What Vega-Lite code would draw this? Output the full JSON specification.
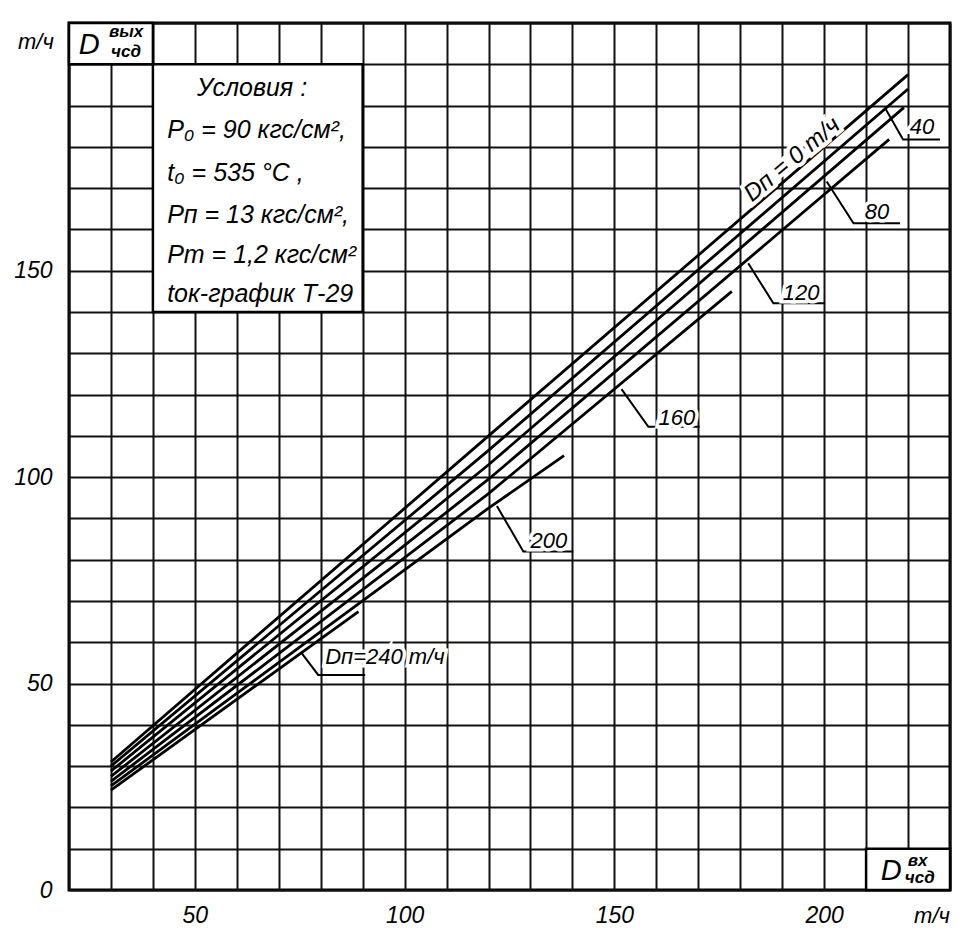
{
  "$schema": "https://vega.github.io/schema/vega-lite/v6.json",
  "width": 881,
  "height": 867,
  "autosize": {"type": "none"},
  "padding": {"left": 69, "top": 23, "right": 14, "bottom": 54},
  "background": "white",
  "config": {
    "view": {"stroke": "black", "strokeWidth": 3},
    "font": "Liberation Sans",
    "text": {"font": "Liberation Sans", "fontStyle": "italic", "color": "black"}
  },
  "datasets": {
    "curves": [
      {"dn": "0", "x": 30, "y": 31}, {"dn": "0", "x": 120, "y": 110}, {"dn": "0", "x": 220, "y": 197.5},
      {"dn": "40", "x": 30, "y": 30}, {"dn": "40", "x": 120, "y": 106.5}, {"dn": "40", "x": 220, "y": 194},
      {"dn": "80", "x": 30, "y": 28.8}, {"dn": "80", "x": 120, "y": 103}, {"dn": "80", "x": 219, "y": 189.5},
      {"dn": "120", "x": 30, "y": 27.5}, {"dn": "120", "x": 120, "y": 99.5}, {"dn": "120", "x": 215.5, "y": 181.8},
      {"dn": "160", "x": 30, "y": 26.3}, {"dn": "160", "x": 120, "y": 96}, {"dn": "160", "x": 178, "y": 145},
      {"dn": "200", "x": 30, "y": 25.2}, {"dn": "200", "x": 120, "y": 92.5}, {"dn": "200", "x": 138, "y": 105.2},
      {"dn": "240", "x": 30, "y": 24.2}, {"dn": "240", "x": 89, "y": 67.4}
    ],
    "leaders": [
      {"id": "40", "seq": 1, "x": 214.7, "y": 189.1}, {"id": "40", "seq": 2, "x": 218.8, "y": 181.8}, {"id": "40", "seq": 3, "x": 227.6, "y": 181.8},
      {"id": "80", "seq": 1, "x": 200.6, "y": 171.6}, {"id": "80", "seq": 2, "x": 207.0, "y": 161.5}, {"id": "80", "seq": 3, "x": 218.1, "y": 161.5},
      {"id": "120", "seq": 1, "x": 181.9, "y": 151.8}, {"id": "120", "seq": 2, "x": 187.9, "y": 142.1}, {"id": "120", "seq": 3, "x": 200.2, "y": 142.1},
      {"id": "160", "seq": 1, "x": 151.7, "y": 121.3}, {"id": "160", "seq": 2, "x": 158.1, "y": 112.2}, {"id": "160", "seq": 3, "x": 170.3, "y": 112.2},
      {"id": "200", "seq": 1, "x": 122.0, "y": 93.0}, {"id": "200", "seq": 2, "x": 128.3, "y": 82.0}, {"id": "200", "seq": 3, "x": 140.2, "y": 82.0},
      {"id": "240", "seq": 1, "x": 75.5, "y": 57.3}, {"id": "240", "seq": 2, "x": 79.4, "y": 52.1}, {"id": "240", "seq": 3, "x": 90.6, "y": 52.1}
    ],
    "boxes": [
      {"x": 40, "x2": 90, "y": 140, "y2": 200},
      {"x": 20, "x2": 40, "y": 200, "y2": 210},
      {"x": 210, "x2": 230, "y": 0, "y2": 10}
    ],
    "cond": [
      {"x": 50.5, "y": 194.3, "t": "Условия :"},
      {"x": 43.4, "y": 184.2, "t": "P₀ = 90 кгс/см²,"},
      {"x": 43.4, "y": 173.7, "t": "t₀ = 535 °C ,"},
      {"x": 43.4, "y": 163.6, "t": "Pп = 13 кгс/см²,"},
      {"x": 43.4, "y": 153.9, "t": "Pт = 1,2 кгс/см²"},
      {"x": 43.4, "y": 144.4, "t": "tок-график Т-29"}
    ],
    "curvelabels": [
      {"x": 223.3, "y": 184.9, "t": "40"},
      {"x": 212.6, "y": 164.3, "t": "80"},
      {"x": 194.5, "y": 144.7, "t": "120"},
      {"x": 164.9, "y": 114.4, "t": "160"},
      {"x": 134.4, "y": 84.6, "t": "200"},
      {"x": 95.3, "y": 56.5, "t": "Dп=240 т/ч"}
    ],
    "dn0": [{"x": 192.4, "y": 176.9, "t": "Dп = 0 т/ч"}],
    "bigD": [{"x": 24.8, "y": 204.6, "t": "D"}, {"x": 216.0, "y": 4.6, "t": "D"}],
    "smallD": [
      {"x": 33.6, "y": 207.8, "t": "вых"}, {"x": 33.6, "y": 203.0, "t": "чсд"},
      {"x": 222.3, "y": 7.0, "t": "вх"}, {"x": 222.8, "y": 2.8, "t": "чсд"}
    ],
    "units": [{"x": 12.1, "y": 205.5, "t": "т/ч"}, {"x": 225.7, "y": -6.3, "t": "т/ч"}]
  },
  "layer": [
    {
      "data": {"name": "curves"},
      "mark": {"type": "line", "color": "black", "strokeWidth": 2.8},
      "encoding": {
        "x": {
          "field": "x", "type": "quantitative",
          "scale": {"domain": [20, 230], "nice": false, "zero": false},
          "axis": {
            "values": [20, 30, 40, 50, 60, 70, 80, 90, 100, 110, 120, 130, 140, 150, 160, 170, 180, 190, 200, 210, 220, 230],
            "grid": true, "gridColor": "#111", "gridWidth": 2, "gridOpacity": 1,
            "ticks": false, "domain": false, "title": null, "labelOverlap": false, "labelFlush": false,
            "labelExpr": "datum.value % 50 === 0 ? datum.label : ''",
            "labelFont": "Liberation Sans", "labelFontStyle": "italic", "labelFontSize": 23,
            "labelColor": "black", "labelPadding": 14
          }
        },
        "y": {
          "field": "y", "type": "quantitative",
          "scale": {"domain": [0, 210], "nice": false, "zero": false},
          "axis": {
            "values": [0, 10, 20, 30, 40, 50, 60, 70, 80, 90, 100, 110, 120, 130, 140, 150, 160, 170, 180, 190, 200, 210],
            "grid": true, "gridColor": "#111", "gridWidth": 2, "gridOpacity": 1,
            "ticks": false, "domain": false, "title": null, "labelOverlap": false, "labelFlush": false,
            "labelExpr": "(datum.value % 50 === 0 && datum.value < 200) ? datum.label : ''",
            "labelFont": "Liberation Sans", "labelFontStyle": "italic", "labelFontSize": 23,
            "labelColor": "black", "labelPadding": 17
          }
        },
        "detail": {"field": "dn", "type": "nominal"}
      }
    },
    {
      "data": {"name": "leaders"},
      "mark": {"type": "line", "color": "black", "strokeWidth": 2},
      "encoding": {
        "x": {"field": "x", "type": "quantitative"},
        "y": {"field": "y", "type": "quantitative"},
        "detail": {"field": "id", "type": "nominal"},
        "order": {"field": "seq", "type": "quantitative"}
      }
    },
    {
      "data": {"name": "boxes"},
      "mark": {"type": "rect", "fill": "white", "stroke": "black", "strokeWidth": 2.5},
      "encoding": {
        "x": {"field": "x", "type": "quantitative"},
        "x2": {"field": "x2"},
        "y": {"field": "y", "type": "quantitative"},
        "y2": {"field": "y2"}
      }
    },
    {
      "data": {"name": "cond"},
      "mark": {"type": "text", "align": "left", "baseline": "middle", "fontSize": 25, "fontStyle": "italic"},
      "encoding": {
        "x": {"field": "x", "type": "quantitative"},
        "y": {"field": "y", "type": "quantitative"},
        "text": {"field": "t"}
      }
    },
    {
      "data": {"name": "curvelabels"},
      "mark": {"type": "text", "align": "center", "baseline": "middle", "fontSize": 22, "fontStyle": "italic", "stroke": "white", "strokeWidth": 7, "fill": "white"},
      "encoding": {
        "x": {"field": "x", "type": "quantitative"},
        "y": {"field": "y", "type": "quantitative"},
        "text": {"field": "t"}
      }
    },
    {
      "data": {"name": "curvelabels"},
      "mark": {"type": "text", "align": "center", "baseline": "middle", "fontSize": 22, "fontStyle": "italic"},
      "encoding": {
        "x": {"field": "x", "type": "quantitative"},
        "y": {"field": "y", "type": "quantitative"},
        "text": {"field": "t"}
      }
    },
    {
      "data": {"name": "dn0"},
      "mark": {"type": "text", "align": "center", "baseline": "middle", "fontSize": 24, "fontStyle": "italic", "angle": -40, "stroke": "white", "strokeWidth": 8, "fill": "white"},
      "encoding": {
        "x": {"field": "x", "type": "quantitative"},
        "y": {"field": "y", "type": "quantitative"},
        "text": {"field": "t"}
      }
    },
    {
      "data": {"name": "dn0"},
      "mark": {"type": "text", "align": "center", "baseline": "middle", "fontSize": 24, "fontStyle": "italic", "angle": -40},
      "encoding": {
        "x": {"field": "x", "type": "quantitative"},
        "y": {"field": "y", "type": "quantitative"},
        "text": {"field": "t"}
      }
    },
    {
      "data": {"name": "bigD"},
      "mark": {"type": "text", "align": "center", "baseline": "middle", "fontSize": 29, "fontStyle": "italic"},
      "encoding": {
        "x": {"field": "x", "type": "quantitative"},
        "y": {"field": "y", "type": "quantitative"},
        "text": {"field": "t"}
      }
    },
    {
      "data": {"name": "smallD"},
      "mark": {"type": "text", "align": "center", "baseline": "middle", "fontSize": 17, "fontStyle": "italic", "fontWeight": "bold"},
      "encoding": {
        "x": {"field": "x", "type": "quantitative"},
        "y": {"field": "y", "type": "quantitative"},
        "text": {"field": "t"}
      }
    },
    {
      "data": {"name": "units"},
      "mark": {"type": "text", "align": "center", "baseline": "middle", "fontSize": 22, "fontStyle": "italic"},
      "encoding": {
        "x": {"field": "x", "type": "quantitative"},
        "y": {"field": "y", "type": "quantitative"},
        "text": {"field": "t"}
      }
    }
  ]
}
